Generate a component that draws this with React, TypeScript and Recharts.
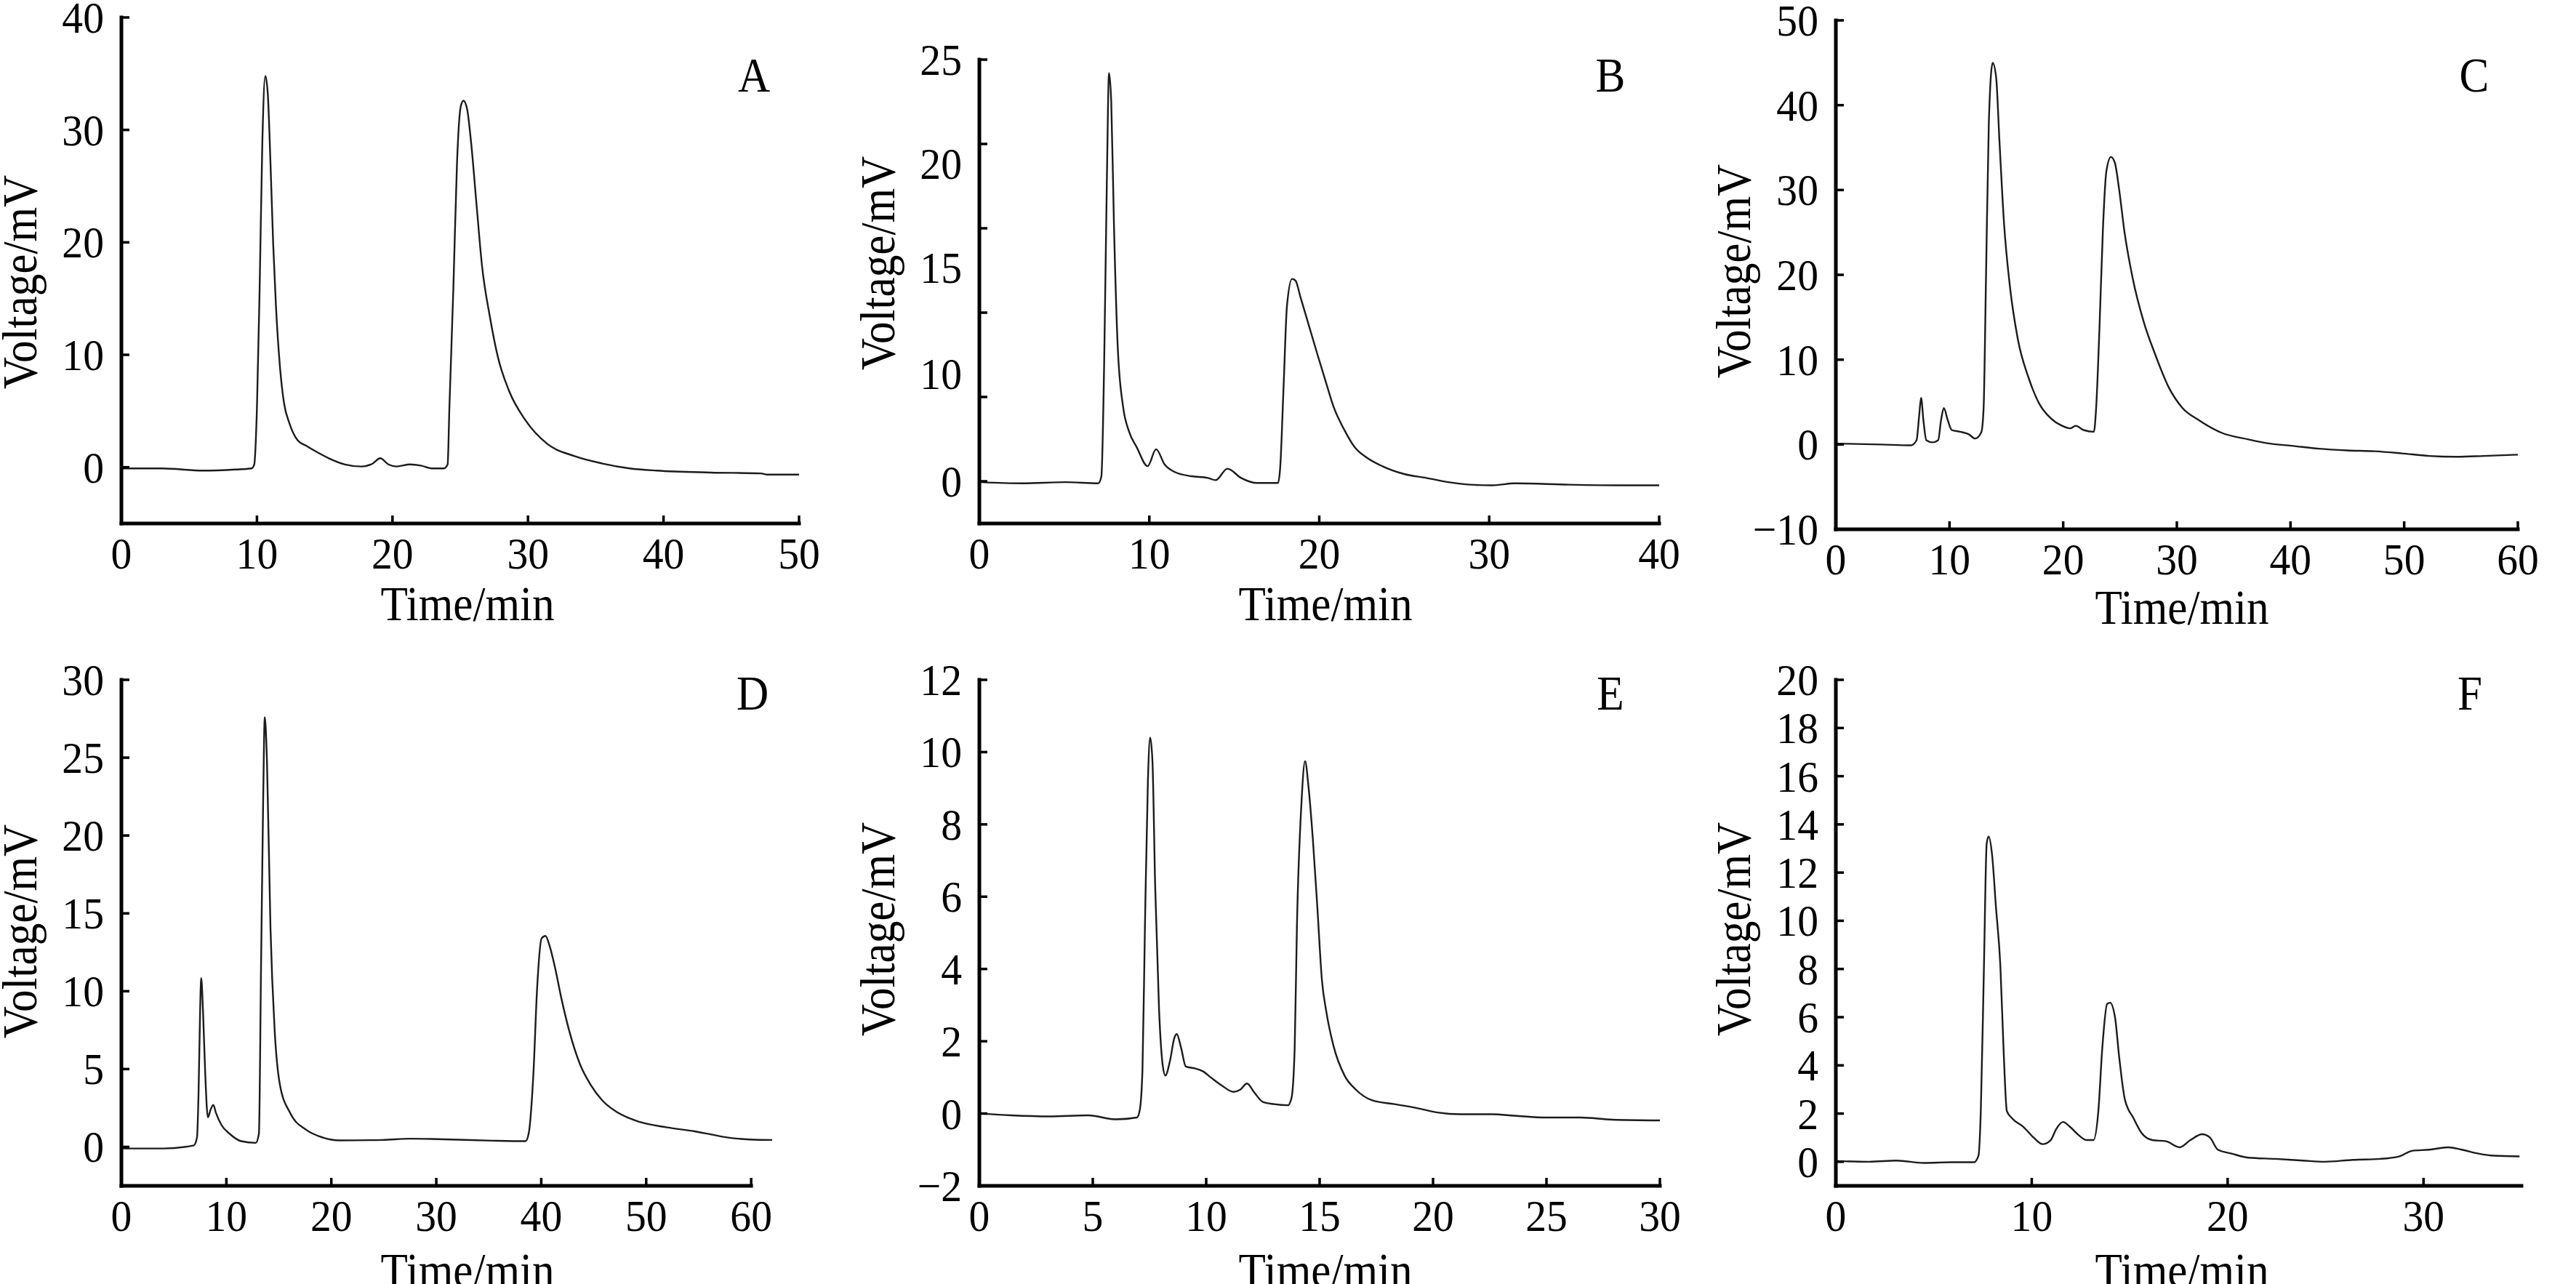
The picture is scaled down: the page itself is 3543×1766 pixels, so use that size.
import React from 'react';
import { LineChart, Line, XAxis, YAxis, Label, ReferenceLine } from 'recharts';

const FONT = '"Liberation Serif", "Times New Roman", Times, serif';
const FS_TITLE = 68;
const SX_TITLE = 0.9;
const FS_TICK = 62;
const SX_TICK = 0.93;

// ---------- Panel A ----------
const aTime = [0.1, 3, 6, 8.4, 9.6, 9.8, 10.0, 10.2, 10.4, 10.62, 10.8, 11.0, 11.2, 11.4, 11.7, 12.0, 12.4, 13.0, 13.65, 14.5, 15.3, 16.5, 17.7, 18.5, 19.1, 19.7, 20.3, 21.3, 22.1, 22.9, 23.8, 24.07, 24.2, 24.5, 24.76, 25.04, 25.24, 25.5, 25.8, 26.2, 26.6, 27.2, 27.8, 28.6, 29.8, 31.4, 33.4, 35.5, 37.5, 39.5, 43.5, 47.2, 47.6, 50];
const aVolt = [-0.1, -0.1, -0.3, -0.2, -0.1, 0.25, 5.3, 16, 29, 34.8, 33.2, 27, 19.8, 14.4, 8.9, 5.7, 3.9, 2.4, 1.9, 1.3, 0.8, 0.25, 0.07, 0.3, 0.8, 0.25, 0.07, 0.25, 0.15, -0.1, -0.1, 0.25, 5.3, 16.2, 27, 32.1, 32.6, 31.9, 28.9, 23.4, 18, 13.3, 9.7, 6.8, 4.2, 2.1, 1.0, 0.33, -0.1, -0.3, -0.47, -0.55, -0.65, -0.65];
const aXTicks = [0, 10, 20, 30, 40, 50];
const aYTicks = [0, 10, 20, 30, 40];

// ---------- Panel B ----------
const bTime = [0.1, 2.5, 5.1, 7.0, 7.18, 7.34, 7.5, 7.63, 7.76, 7.92, 8.14, 8.46, 8.79, 9.27, 9.9, 10.4, 10.9, 11.5, 12.5, 13.45, 13.9, 14.6, 15.4, 16.35, 17.57, 17.7, 17.9, 18.1, 18.4, 18.6, 18.9, 19.4, 19.9, 20.4, 20.85, 21.5, 22.1, 22.8, 23.7, 25.0, 26.3, 27.6, 28.9, 30.2, 31.5, 34.7, 37.9, 40];
const bVolt = [-0.05, -0.12, -0.05, -0.12, 0.3, 6.8, 17.7, 24.2, 22.5, 15.2, 8.0, 4.4, 3.0, 2.0, 0.9, 1.9, 1.0, 0.55, 0.3, 0.2, 0.07, 0.75, 0.2, -0.1, -0.1, 0.8, 5.6, 10.4, 12.0, 11.9, 10.9, 9.2, 7.5, 5.85, 4.4, 3.0, 2.0, 1.4, 0.9, 0.43, 0.2, -0.05, -0.2, -0.24, -0.12, -0.2, -0.24, -0.24];
const bXTicks = [0, 10, 20, 30, 40];
const bYTicks = [0, 5, 10, 15, 20, 25];

// ---------- Panel C ----------
const cTime = [0.1, 4, 6.6, 7.1, 7.33, 7.5, 7.7, 7.96, 8.5, 9.0, 9.26, 9.5, 9.84, 10.2, 10.95, 11.7, 12.25, 12.8, 13.0, 13.2, 13.46, 13.8, 14.1, 14.4, 14.8, 15.3, 16.0, 17.0, 17.9, 18.9, 19.9, 20.6, 21.1, 21.8, 22.7, 22.9, 23.2, 23.5, 23.8, 24.2, 24.55, 24.9, 25.4, 26.1, 27.1, 28.1, 29.3, 30.5, 31.9, 33.9, 36.3, 38.2, 40.1, 42.5, 45, 47.4, 49.8, 52.2, 54.6, 57, 60];
const cVolt = [0.1, 0, -0.1, 0.5, 3.4, 5.5, 2.9, 0.5, 0.25, 0.5, 2.9, 4.3, 2.9, 1.7, 1.5, 1.2, 0.7, 1.45, 4.3, 18.8, 38, 45.0, 43.3, 35.6, 26, 18.8, 12.5, 7.7, 4.8, 3.1, 2.2, 1.9, 2.2, 1.7, 1.5, 4.3, 14, 25.5, 32.2, 33.9, 33.2, 30.3, 25, 19.7, 14.4, 10.6, 6.7, 4.3, 2.9, 1.4, 0.6, 0.1, -0.15, -0.5, -0.7, -0.8, -1.05, -1.35, -1.45, -1.35, -1.2];
const cXTicks = [0, 10, 20, 30, 40, 50, 60];
const cYTicks = [-10, 0, 10, 20, 30, 40, 50];

// ---------- Panel D ----------
const dTime = [0.15, 4, 6.9, 7.2, 7.35, 7.5, 7.6, 7.77, 7.98, 8.24, 8.5, 8.76, 9.0, 9.54, 10.3, 11.4, 12.8, 13.1, 13.3, 13.5, 13.66, 13.87, 14.2, 14.6, 15.1, 16.06, 17.6, 19.2, 20.75, 24.9, 27.5, 30.1, 35.35, 38.5, 38.8, 39.26, 39.6, 40.04, 40.4, 40.8, 41.35, 41.9, 42.65, 43.7, 44.7, 45.8, 47.3, 49.4, 52, 54.6, 56.2, 57.8, 59.85, 62];
const dVolt = [-0.1, -0.1, 0.1, 0.6, 3.5, 8.8, 10.85, 8.8, 4.8, 1.9, 2.4, 2.7, 2.2, 1.4, 0.85, 0.37, 0.26, 0.85, 11.4, 22, 27.6, 24.7, 14.1, 7.5, 4.0, 2.2, 1.1, 0.6, 0.42, 0.45, 0.53, 0.5, 0.4, 0.37, 0.85, 4.8, 10.1, 13.4, 13.55, 12.9, 11.4, 9.6, 7.5, 5.3, 4.0, 3.0, 2.2, 1.6, 1.25, 1.0, 0.8, 0.6, 0.48, 0.45];
const dXTicks = [0, 10, 20, 30, 40, 50, 60];
const dYTicks = [0, 5, 10, 15, 20, 25, 30];

// ---------- Panel E ----------
const eTime = [0.07, 1.4, 3.1, 4.8, 6.0, 6.95, 7.07, 7.19, 7.3, 7.43, 7.53, 7.63, 7.75, 7.92, 8.09, 8.2, 8.4, 8.6, 8.7, 8.9, 9.1, 9.5, 9.85, 10.2, 10.7, 11.2, 11.5, 11.8, 12.1, 12.5, 13.0, 13.6, 13.76, 13.9, 14.0, 14.2, 14.36, 14.5, 14.7, 14.9, 15.1, 15.3, 15.6, 16.1, 16.6, 17.3, 18.3, 19.3, 20.2, 21.2, 22.6, 23.6, 25, 26.5, 27.9, 30];
const eVolt = [0, -0.05, -0.08, -0.05, -0.16, -0.11, 0.09, 1.2, 5.2, 9.2, 10.4, 9.75, 6.3, 2.9, 1.3, 1.05, 1.45, 2.1, 2.2, 1.8, 1.3, 1.25, 1.17, 1.0, 0.77, 0.6, 0.66, 0.83, 0.6, 0.32, 0.26, 0.23, 0.43, 1.8, 5.2, 8.6, 9.75, 9.1, 7.6, 5.7, 3.7, 2.8, 1.9, 1.05, 0.66, 0.37, 0.26, 0.15, 0.03, -0.02, -0.02, -0.06, -0.11, -0.11, -0.17, -0.19];
const eXTicks = [0, 5, 10, 15, 20, 25, 30];
const eYTicks = [-2, 0, 2, 4, 6, 8, 10, 12];

// ---------- Panel F ----------
const fTime = [0.05, 1.7, 3.1, 4.5, 5.9, 7.05, 7.28, 7.4, 7.56, 7.7, 7.8, 7.98, 8.17, 8.4, 8.56, 8.73, 9.0, 9.57, 10.1, 10.55, 10.97, 11.25, 11.6, 11.95, 12.4, 12.8, 13.15, 13.4, 13.6, 13.85, 14.0, 14.25, 14.47, 14.75, 15.2, 15.6, 16.15, 16.85, 17.55, 18.1, 18.7, 19.1, 19.5, 20.2, 21.05, 22.45, 23.85, 24.96, 26.4, 27.8, 28.75, 29.45, 30.3, 31.25, 31.96, 32.8, 33.6, 34.9];
const fVolt = [0.03, 0, 0.05, -0.05, -0.02, -0.02, 0.25, 2.1, 8.1, 13.2, 13.5, 12.7, 10.6, 8.1, 4.7, 2.1, 1.8, 1.45, 1.0, 0.73, 0.9, 1.36, 1.65, 1.45, 1.1, 0.9, 0.9, 2.1, 4.7, 6.55, 6.6, 6.0, 4.3, 2.6, 1.8, 1.2, 0.9, 0.85, 0.6, 0.9, 1.14, 1.0, 0.5, 0.34, 0.17, 0.12, 0.05, 0, 0.08, 0.12, 0.22, 0.46, 0.5, 0.6, 0.5, 0.34, 0.25, 0.22];
const fXTicks = [0, 10, 20, 30];
const fYTicks = [0, 2, 4, 6, 8, 10, 12, 14, 16, 18, 20];

const X_TITLE = 'Time/min';
const Y_TITLE = 'Voltage/mV';

const fmt = (v: number) => (v < 0 ? '\u2212' + Math.abs(v) : String(v));

type Panel = {
  letter: string;
  time: number[];
  volt: number[];
  xTicks: number[];
  yTicks: number[];
  xDomain: [number, number];
  yDomain: [number, number];
  axisEnd?: number;
  left: number;
  top: number;
  width: number;
  height: number;
  margin: { top: number; right: number; bottom: number; left: number };
  xTickGap: number;
  titleX: number;
  titleY: number;
  yTitleX: number;
  yTitleY: number;
  letterX: number;
  letterY: number;
  yLabelShift?: Record<number, number>;
  yHidden?: number[];
};

const PANELS: Panel[] = [
  {
    letter: 'A', time: aTime, volt: aVolt, xTicks: aXTicks, yTicks: aYTicks,
    xDomain: [0, 50], yDomain: [-5, 40],
    left: 0, top: 0, width: 1180, height: 880,
    margin: { top: 24, right: 81, bottom: 160, left: 167 },
    xTickGap: 62, titleX: 643, titleY: 853, yTitleX: 50, yTitleY: 388, letterX: 1037, letterY: 126,
  },
  {
    letter: 'B', time: bTime, volt: bVolt, xTicks: bXTicks, yTicks: bYTicks,
    xDomain: [0, 40], yDomain: [-2.5, 25],
    left: 1180, top: 0, width: 1180, height: 880,
    margin: { top: 82, right: 78, bottom: 160, left: 167 },
    xTickGap: 62, titleX: 643, titleY: 853, yTitleX: 50, yTitleY: 362, letterX: 1035, letterY: 126,
    yLabelShift: { 20: 27, 15: 54, 10: 84 }, yHidden: [5],
  },
  {
    letter: 'C', time: cTime, volt: cVolt, xTicks: cXTicks, yTicks: cYTicks,
    xDomain: [0, 60], yDomain: [-10, 50],
    left: 2360, top: 0, width: 1183, height: 880,
    margin: { top: 28, right: 80, bottom: 152, left: 165 },
    xTickGap: 62, titleX: 641, titleY: 858, yTitleX: 47, yTitleY: 373, letterX: 1043, letterY: 126,
  },
  {
    letter: 'D', time: dTime, volt: dVolt, xTicks: dXTicks, yTicks: dYTicks,
    xDomain: [0, 62], yDomain: [-2.5, 30], axisEnd: 60,
    left: 0, top: 880, width: 1180, height: 886,
    margin: { top: 55, right: 118, bottom: 135, left: 167 },
    xTickGap: 62, titleX: 643, titleY: 890, yTitleX: 50, yTitleY: 401, letterX: 1035, letterY: 96,
  },
  {
    letter: 'E', time: eTime, volt: eVolt, xTicks: eXTicks, yTicks: eYTicks,
    xDomain: [0, 30], yDomain: [-2, 12],
    left: 1180, top: 880, width: 1180, height: 886,
    margin: { top: 55, right: 77, bottom: 135, left: 167 },
    xTickGap: 62, titleX: 643, titleY: 890, yTitleX: 50, yTitleY: 398, letterX: 1035, letterY: 96,
  },
  {
    letter: 'F', time: fTime, volt: fVolt, xTicks: fXTicks, yTicks: fYTicks,
    xDomain: [0, 35], yDomain: [-1, 20],
    left: 2360, top: 880, width: 1183, height: 886,
    margin: { top: 55, right: 75, bottom: 135, left: 165 },
    xTickGap: 62, titleX: 641, titleY: 890, yTitleX: 47, yTitleY: 398, letterX: 1037, letterY: 96,
  },
];

const titleProps = { fontFamily: FONT, fontSize: FS_TITLE, fill: '#000' };
const tickProps = { fontFamily: FONT, fontSize: FS_TICK, fill: '#000' };

const makeXTick = (gap: number) => (props: any) => {
  const { x, y, payload } = props;
  return (
    <text transform={`translate(${x},${y + gap}) scale(${SX_TICK},1)`} textAnchor="middle" {...tickProps}>
      {fmt(payload.value)}
    </text>
  );
};

const makeYTick = (shift: Record<number, number>, hidden: number[]) => (props: any) => {
  const { x, y, payload } = props;
  if (hidden.includes(payload.value)) return <g />;
  const dy = shift[payload.value] ?? 0;
  return (
    <text transform={`translate(${x - 24},${y + dy + 21}) scale(${SX_TICK},1)`} textAnchor="end" {...tickProps}>
      {fmt(payload.value)}
    </text>
  );
};

const AXIS_LINE = { stroke: '#000', strokeWidth: 5, strokeLinecap: 'square' as const };
const TICK_LINE = { stroke: '#000', strokeWidth: 3.5 };

function ChromPanel({ p }: { p: Panel }) {
  const rows = p.time.map((t, i) => ({ t, v: p.volt[i] }));
  const m = { top: p.margin.top, right: p.margin.right, bottom: 0, left: 0 };
  return (
    <div style={{ position: 'absolute', left: p.left, top: p.top, width: p.width, height: p.height }}>
      <LineChart width={p.width} height={p.height} data={rows} margin={m}>
        <XAxis
          type="number"
          dataKey="t"
          domain={p.xDomain}
          ticks={p.xTicks}
          interval={0}
          height={p.margin.bottom}
          axisLine={p.axisEnd !== undefined ? false : AXIS_LINE}
          tickLine={TICK_LINE}
          tickSize={-11}
          tickMargin={11}
          tick={makeXTick(p.xTickGap)}
        >
          <Label
            content={() => (
              <text transform={`translate(${p.titleX},${p.titleY}) scale(${SX_TITLE},1)`} textAnchor="middle" {...titleProps}>
                {X_TITLE}
              </text>
            )}
          />
          <Label
            content={() => (
              <text transform={`translate(${p.letterX},${p.letterY}) scale(${SX_TITLE},1)`} textAnchor="middle" {...titleProps}>
                {p.letter}
              </text>
            )}
          />
        </XAxis>
        <YAxis
          type="number"
          domain={p.yDomain}
          ticks={p.yTicks}
          interval={0}
          width={p.margin.left}
          axisLine={AXIS_LINE}
          tickLine={TICK_LINE}
          tickSize={-11}
          tickMargin={11}
          tick={makeYTick(p.yLabelShift ?? {}, p.yHidden ?? [])}
        >
          <Label
            content={() => (
              <text
                transform={`translate(${p.yTitleX},${p.yTitleY}) rotate(-90) scale(${SX_TITLE},1)`}
                textAnchor="middle"
                {...titleProps}
              >
                {Y_TITLE}
              </text>
            )}
          />
        </YAxis>
        {p.axisEnd !== undefined && (
          <ReferenceLine
            segment={[
              { x: p.xDomain[0], y: p.yDomain[0] },
              { x: p.axisEnd, y: p.yDomain[0] },
            ]}
            stroke="#000"
            strokeWidth={5}
            strokeLinecap="square"
            ifOverflow="visible"
          />
        )}
        <Line
          type="monotone"
          dataKey="v"
          stroke="#1c1c1c"
          strokeWidth={2.4}
          dot={false}
          activeDot={false}
          isAnimationActive={false}
        />
      </LineChart>
    </div>
  );
}

export default function App() {
  return (
    <div
      style={{
        position: 'absolute',
        left: 0,
        top: 0,
        width: 3543,
        height: 1766,
        background: '#fff',
        overflow: 'hidden',
      }}
    >
      {PANELS.map((p) => (
        <ChromPanel key={p.letter} p={p} />
      ))}
    </div>
  );
}
